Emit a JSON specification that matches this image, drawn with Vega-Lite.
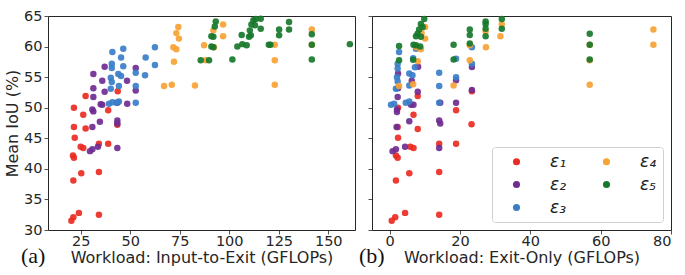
{
  "$schema": "https://vega.github.io/schema/vega-lite/v6.json",
  "padding": {"left": 4, "top": 7, "right": 0, "bottom": 0},
  "background": "white",
  "config": {
    "font": "DejaVu Sans",
    "view": {"stroke": "#262626", "strokeWidth": 1},
    "axis": {"grid": false, "domain": false, "tickColor": "#262626", "tickSize": 4, "tickWidth": 0.8,
             "labelFontSize": 14.5, "labelColor": "#262626", "labelPadding": 2,
             "titleFontSize": 16, "titleFontWeight": "normal", "titleColor": "#262626"}
  },
  "datasets": {
    "a": [
      {"exit":"ε₁","gflops":43.7,"iou":52.7},{"exit":"ε₁","gflops":27.5,"iou":51.9},{"exit":"ε₁","gflops":21.6,"iou":50.0},{"exit":"ε₁","gflops":38.9,"iou":49.6},
      {"exit":"ε₁","gflops":26.3,"iou":48.85},{"exit":"ε₁","gflops":21.6,"iou":46.85},{"exit":"ε₁","gflops":27.5,"iou":46.6},{"exit":"ε₁","gflops":43.5,"iou":47.2},
      {"exit":"ε₁","gflops":22.0,"iou":45.1},{"exit":"ε₁","gflops":25.0,"iou":43.6},{"exit":"ε₁","gflops":26.3,"iou":43.4},{"exit":"ε₁","gflops":34.2,"iou":44.1},
      {"exit":"ε₁","gflops":38.9,"iou":44.1},{"exit":"ε₁","gflops":21.1,"iou":42.2},{"exit":"ε₁","gflops":21.6,"iou":41.8},{"exit":"ε₁","gflops":25.3,"iou":39.3},
      {"exit":"ε₁","gflops":34.2,"iou":39.5},{"exit":"ε₁","gflops":21.3,"iou":38.1},{"exit":"ε₁","gflops":24.1,"iou":32.8},{"exit":"ε₁","gflops":21.3,"iou":32.1},
      {"exit":"ε₁","gflops":20.3,"iou":31.5},{"exit":"ε₁","gflops":34.2,"iou":32.5},
      {"exit":"ε₂","gflops":37.1,"iou":56.7},{"exit":"ε₂","gflops":31.4,"iou":55.5},{"exit":"ε₂","gflops":35.9,"iou":54.4},{"exit":"ε₂","gflops":48.4,"iou":54.4},
      {"exit":"ε₂","gflops":52.8,"iou":56.5},{"exit":"ε₂","gflops":52.8,"iou":52.8},{"exit":"ε₂","gflops":31.4,"iou":53.2},{"exit":"ε₂","gflops":37.1,"iou":52.6},
      {"exit":"ε₂","gflops":31.4,"iou":51.75},{"exit":"ε₂","gflops":35.1,"iou":50.55},{"exit":"ε₂","gflops":35.9,"iou":50.5},{"exit":"ε₂","gflops":43.5,"iou":50.8},
      {"exit":"ε₂","gflops":48.5,"iou":50.65},{"exit":"ε₂","gflops":30.9,"iou":49.7},{"exit":"ε₂","gflops":31.4,"iou":49.4},{"exit":"ε₂","gflops":34.7,"iou":47.7},
      {"exit":"ε₂","gflops":43.5,"iou":47.9},{"exit":"ε₂","gflops":43.5,"iou":47.4},{"exit":"ε₂","gflops":30.9,"iou":46.85},{"exit":"ε₂","gflops":43.5,"iou":43.4},
      {"exit":"ε₂","gflops":29.7,"iou":42.9},{"exit":"ε₂","gflops":30.9,"iou":43.2},{"exit":"ε₂","gflops":33.7,"iou":43.6},
      {"exit":"ε₃","gflops":41.0,"iou":59.1},{"exit":"ε₃","gflops":46.5,"iou":59.65},{"exit":"ε₃","gflops":45.4,"iou":58.2},{"exit":"ε₃","gflops":40.7,"iou":57.2},
      {"exit":"ε₃","gflops":40.7,"iou":56.5},{"exit":"ε₃","gflops":46.5,"iou":56.8},{"exit":"ε₃","gflops":44.0,"iou":55.5},{"exit":"ε₃","gflops":45.4,"iou":55.2},
      {"exit":"ε₃","gflops":40.2,"iou":54.9},{"exit":"ε₃","gflops":40.7,"iou":54.2},{"exit":"ε₃","gflops":52.8,"iou":55.7},{"exit":"ε₃","gflops":52.8,"iou":53.55},
      {"exit":"ε₃","gflops":44.3,"iou":53.55},{"exit":"ε₃","gflops":40.2,"iou":53.1},{"exit":"ε₃","gflops":57.5,"iou":55.3},{"exit":"ε₃","gflops":57.8,"iou":58.2},
      {"exit":"ε₃","gflops":62.5,"iou":59.9},{"exit":"ε₃","gflops":62.5,"iou":57.0},{"exit":"ε₃","gflops":39.3,"iou":50.65},{"exit":"ε₃","gflops":41.0,"iou":50.9},
      {"exit":"ε₃","gflops":43.0,"iou":50.8},{"exit":"ε₃","gflops":44.3,"iou":51.0},{"exit":"ε₃","gflops":52.8,"iou":50.8},
      {"exit":"ε₄","gflops":74.3,"iou":63.2},{"exit":"ε₄","gflops":73.3,"iou":62.2},{"exit":"ε₄","gflops":74.6,"iou":61.3},{"exit":"ε₄","gflops":71.8,"iou":59.9},
      {"exit":"ε₄","gflops":73.3,"iou":59.55},{"exit":"ε₄","gflops":72.1,"iou":57.5},{"exit":"ε₄","gflops":67.1,"iou":53.55},{"exit":"ε₄","gflops":71.0,"iou":53.75},
      {"exit":"ε₄","gflops":82.7,"iou":53.65},{"exit":"ε₄","gflops":87.3,"iou":60.2},{"exit":"ε₄","gflops":92.3,"iou":59.9},{"exit":"ε₄","gflops":92.0,"iou":62.65},
      {"exit":"ε₄","gflops":96.9,"iou":63.6},{"exit":"ε₄","gflops":96.9,"iou":61.7},{"exit":"ε₄","gflops":88.1,"iou":57.75},{"exit":"ε₄","gflops":123.0,"iou":60.3},
      {"exit":"ε₄","gflops":123.0,"iou":57.75},{"exit":"ε₄","gflops":123.0,"iou":53.75},{"exit":"ε₄","gflops":141.7,"iou":62.8},{"exit":"ε₄","gflops":141.7,"iou":60.3},
      {"exit":"ε₅","gflops":93.2,"iou":64.1},{"exit":"ε₅","gflops":92.7,"iou":63.3},{"exit":"ε₅","gflops":91.0,"iou":61.7},{"exit":"ε₅","gflops":92.0,"iou":61.6},
      {"exit":"ε₅","gflops":91.0,"iou":60.0},{"exit":"ε₅","gflops":92.0,"iou":59.9},{"exit":"ε₅","gflops":85.6,"iou":57.75},{"exit":"ε₅","gflops":89.8,"iou":57.75},
      {"exit":"ε₅","gflops":101.6,"iou":57.9},{"exit":"ε₅","gflops":106.3,"iou":61.9},{"exit":"ε₅","gflops":104.1,"iou":60.0},{"exit":"ε₅","gflops":106.6,"iou":60.4},
      {"exit":"ε₅","gflops":108.8,"iou":60.2},{"exit":"ε₅","gflops":110.4,"iou":62.65},{"exit":"ε₅","gflops":111.2,"iou":63.6},{"exit":"ε₅","gflops":112.2,"iou":64.3},
      {"exit":"ε₅","gflops":110.9,"iou":61.85},{"exit":"ε₅","gflops":110.0,"iou":61.6},{"exit":"ε₅","gflops":113.4,"iou":64.5},{"exit":"ε₅","gflops":115.9,"iou":64.55},
      {"exit":"ε₅","gflops":113.0,"iou":63.5},{"exit":"ε₅","gflops":115.9,"iou":62.9},{"exit":"ε₅","gflops":125.2,"iou":62.8},{"exit":"ε₅","gflops":125.2,"iou":61.85},
      {"exit":"ε₅","gflops":130.2,"iou":64.0},{"exit":"ε₅","gflops":130.2,"iou":62.8},{"exit":"ε₅","gflops":120.0,"iou":60.3},{"exit":"ε₅","gflops":120.8,"iou":60.3},
      {"exit":"ε₅","gflops":141.7,"iou":62.0},{"exit":"ε₅","gflops":141.7,"iou":60.3},{"exit":"ε₅","gflops":141.7,"iou":57.9},{"exit":"ε₅","gflops":160.9,"iou":60.4}
    ],
    "b": [
      {"exit":"ε₁","gflops":23.4,"iou":52.7},{"exit":"ε₁","gflops":8.0,"iou":51.9},{"exit":"ε₁","gflops":2.4,"iou":50.0},{"exit":"ε₁","gflops":18.9,"iou":49.6},
      {"exit":"ε₁","gflops":6.8,"iou":48.85},{"exit":"ε₁","gflops":2.3,"iou":46.85},{"exit":"ε₁","gflops":8.0,"iou":46.5},{"exit":"ε₁","gflops":23.3,"iou":47.3},
      {"exit":"ε₁","gflops":2.4,"iou":45.1},{"exit":"ε₁","gflops":5.9,"iou":43.6},{"exit":"ε₁","gflops":6.8,"iou":43.4},{"exit":"ε₁","gflops":14.1,"iou":44.1},
      {"exit":"ε₁","gflops":18.9,"iou":44.1},{"exit":"ε₁","gflops":1.8,"iou":42.2},{"exit":"ε₁","gflops":2.3,"iou":41.8},{"exit":"ε₁","gflops":5.6,"iou":39.3},
      {"exit":"ε₁","gflops":14.1,"iou":39.5},{"exit":"ε₁","gflops":1.8,"iou":38.1},{"exit":"ε₁","gflops":4.4,"iou":32.8},{"exit":"ε₁","gflops":1.6,"iou":32.1},
      {"exit":"ε₁","gflops":0.6,"iou":31.5},{"exit":"ε₁","gflops":14.1,"iou":32.5},
      {"exit":"ε₂","gflops":8.1,"iou":56.7},{"exit":"ε₂","gflops":2.4,"iou":55.6},{"exit":"ε₂","gflops":6.3,"iou":54.4},{"exit":"ε₂","gflops":18.9,"iou":54.5},
      {"exit":"ε₂","gflops":23.4,"iou":56.65},{"exit":"ε₂","gflops":23.4,"iou":52.9},{"exit":"ε₂","gflops":2.4,"iou":53.2},{"exit":"ε₂","gflops":8.0,"iou":52.6},
      {"exit":"ε₂","gflops":2.3,"iou":51.75},{"exit":"ε₂","gflops":6.1,"iou":50.5},{"exit":"ε₂","gflops":6.8,"iou":50.5},{"exit":"ε₂","gflops":14.4,"iou":50.8},
      {"exit":"ε₂","gflops":18.9,"iou":50.8},{"exit":"ε₂","gflops":2.1,"iou":49.7},{"exit":"ε₂","gflops":2.1,"iou":49.3},{"exit":"ε₂","gflops":5.6,"iou":47.8},
      {"exit":"ε₂","gflops":14.1,"iou":47.9},{"exit":"ε₂","gflops":14.4,"iou":47.4},{"exit":"ε₂","gflops":2.0,"iou":46.85},{"exit":"ε₂","gflops":14.1,"iou":43.4},
      {"exit":"ε₂","gflops":0.85,"iou":42.9},{"exit":"ε₂","gflops":1.8,"iou":43.2},{"exit":"ε₂","gflops":4.4,"iou":43.6},
      {"exit":"ε₃","gflops":2.7,"iou":59.1},{"exit":"ε₃","gflops":7.5,"iou":59.65},{"exit":"ε₃","gflops":6.7,"iou":58.1},{"exit":"ε₃","gflops":2.3,"iou":57.2},
      {"exit":"ε₃","gflops":2.3,"iou":56.4},{"exit":"ε₃","gflops":7.2,"iou":56.6},{"exit":"ε₃","gflops":5.6,"iou":55.6},{"exit":"ε₃","gflops":6.5,"iou":55.3},
      {"exit":"ε₃","gflops":2.1,"iou":55.0},{"exit":"ε₃","gflops":2.3,"iou":54.3},{"exit":"ε₃","gflops":14.1,"iou":55.7},{"exit":"ε₃","gflops":14.1,"iou":53.55},
      {"exit":"ε₃","gflops":5.6,"iou":53.65},{"exit":"ε₃","gflops":1.8,"iou":53.1},{"exit":"ε₃","gflops":18.9,"iou":55.0},{"exit":"ε₃","gflops":18.9,"iou":58.0},
      {"exit":"ε₃","gflops":23.4,"iou":59.9},{"exit":"ε₃","gflops":23.4,"iou":57.2},{"exit":"ε₃","gflops":0.4,"iou":50.5},{"exit":"ε₃","gflops":1.3,"iou":50.65},
      {"exit":"ε₃","gflops":4.6,"iou":50.8},{"exit":"ε₃","gflops":5.6,"iou":51.0},{"exit":"ε₃","gflops":14.1,"iou":50.8},
      {"exit":"ε₄","gflops":10.1,"iou":63.2},{"exit":"ε₄","gflops":9.1,"iou":62.2},{"exit":"ε₄","gflops":10.1,"iou":61.3},{"exit":"ε₄","gflops":7.6,"iou":59.9},
      {"exit":"ε₄","gflops":8.9,"iou":59.55},{"exit":"ε₄","gflops":8.0,"iou":57.6},{"exit":"ε₄","gflops":2.7,"iou":53.55},{"exit":"ε₄","gflops":6.7,"iou":53.85},
      {"exit":"ε₄","gflops":18.2,"iou":53.65},{"exit":"ε₄","gflops":22.8,"iou":60.2},{"exit":"ε₄","gflops":27.4,"iou":59.9},{"exit":"ε₄","gflops":27.3,"iou":62.5},
      {"exit":"ε₄","gflops":31.9,"iou":63.65},{"exit":"ε₄","gflops":31.5,"iou":61.7},{"exit":"ε₄","gflops":22.8,"iou":57.75},{"exit":"ε₄","gflops":56.9,"iou":60.3},
      {"exit":"ε₄","gflops":56.9,"iou":57.75},{"exit":"ε₄","gflops":56.9,"iou":53.75},{"exit":"ε₄","gflops":75.0,"iou":62.8},{"exit":"ε₄","gflops":75.0,"iou":60.3},
      {"exit":"ε₅","gflops":9.85,"iou":64.5},{"exit":"ε₅","gflops":8.9,"iou":63.7},{"exit":"ε₅","gflops":9.4,"iou":63.2},{"exit":"ε₅","gflops":8.4,"iou":62.8},
      {"exit":"ε₅","gflops":7.95,"iou":62.1},{"exit":"ε₅","gflops":7.5,"iou":61.7},{"exit":"ε₅","gflops":8.9,"iou":61.6},{"exit":"ε₅","gflops":7.5,"iou":60.2},
      {"exit":"ε₅","gflops":6.8,"iou":60.3},{"exit":"ε₅","gflops":8.7,"iou":60.0},{"exit":"ε₅","gflops":2.7,"iou":60.1},{"exit":"ε₅","gflops":2.7,"iou":57.75},
      {"exit":"ε₅","gflops":6.7,"iou":57.85},{"exit":"ε₅","gflops":18.2,"iou":60.3},{"exit":"ε₅","gflops":18.2,"iou":57.9},{"exit":"ε₅","gflops":22.8,"iou":62.8},
      {"exit":"ε₅","gflops":22.8,"iou":61.9},{"exit":"ε₅","gflops":22.8,"iou":60.5},{"exit":"ε₅","gflops":27.3,"iou":64.1},{"exit":"ε₅","gflops":27.3,"iou":63.7},
      {"exit":"ε₅","gflops":27.3,"iou":62.9},{"exit":"ε₅","gflops":27.3,"iou":61.7},{"exit":"ε₅","gflops":31.9,"iou":64.5},{"exit":"ε₅","gflops":31.9,"iou":62.9},
      {"exit":"ε₅","gflops":56.9,"iou":62.1},{"exit":"ε₅","gflops":56.9,"iou":60.3},{"exit":"ε₅","gflops":56.9,"iou":57.9}
    ]
  },
  "bounds": "flush",
  "spacing": 17,
  "resolve": {"scale": {"color": "independent"}},
  "hconcat": [
    {
      "width": 307,
      "height": 214,
      "data": {"name": "a"},
      "title": {"text": "(a)", "orient": "bottom", "anchor": "start", "frame": "group", "font": "Liberation Serif", "fontSize": 22, "fontWeight": "normal", "color": "#111111", "offset": 0, "dx": -27, "dy": -3, "baseline": "alphabetic"},
      "mark": {"type": "circle", "size": 42, "opacity": 0.92},
      "encoding": {
        "x": {"field": "gflops", "type": "quantitative", "scale": {"domain": [8.5, 163.5], "nice": false, "zero": false},
              "axis": {"values": [25, 50, 75, 100, 125, 150], "title": "Workload: Input-to-Exit (GFLOPs)", "titlePadding": 2, "labelPadding": 0}},
        "y": {"field": "iou", "type": "quantitative", "scale": {"domain": [30, 65], "nice": false, "zero": false},
              "axis": {"values": [30, 35, 40, 45, 50, 55, 60, 65], "title": "Mean IoU (%)", "titlePadding": 3}},
        "color": {"field": "exit", "type": "nominal",
                  "scale": {"domain": ["ε₁", "ε₂", "ε₃", "ε₄", "ε₅"], "range": ["#ea2b23", "#6f2c91", "#3a7ec8", "#f7a233", "#17782b"]},
                  "legend": null}
      }
    },
    {
      "width": 299,
      "height": 214,
      "data": {"name": "b"},
      "title": {"text": "(b)", "orient": "bottom", "anchor": "start", "frame": "group", "font": "Liberation Serif", "fontSize": 22, "fontWeight": "normal", "color": "#111111", "offset": 0, "dx": -13, "dy": -3, "baseline": "alphabetic"},
      "mark": {"type": "circle", "size": 42, "opacity": 0.92},
      "encoding": {
        "x": {"field": "gflops", "type": "quantitative", "scale": {"domain": [-5, 80], "nice": false, "zero": false},
              "axis": {"values": [0, 20, 40, 60, 80], "title": "Workload: Exit-Only (GFLOPs)", "titlePadding": 2, "labelPadding": 0}},
        "y": {"field": "iou", "type": "quantitative", "scale": {"domain": [30, 65], "nice": false, "zero": false},
              "axis": {"values": [30, 35, 40, 45, 50, 55, 60, 65], "labels": false, "title": null}},
        "color": {"field": "exit", "type": "nominal",
                  "scale": {"domain": ["ε₁", "ε₂", "ε₃", "ε₄", "ε₅"], "range": ["#ea2b23", "#6f2c91", "#3a7ec8", "#f7a233", "#17782b"]},
                  "legend": {"title": null, "orient": "bottom-right", "offset": 8, "columns": 2, "symbolType": "circle", "symbolSize": 50,
                             "symbolOpacity": 1, "labelFontSize": 17, "labelFont": "DejaVu Sans", "labelFontStyle": "italic", "labelColor": "#222222",
                             "labelOffset": 25, "columnPadding": 21, "rowPadding": 5, "padding": 6, "symbolOffset": 10,
                             "strokeColor": "#d0d0d0", "cornerRadius": 3, "fillColor": "white"}}
      }
    }
  ]
}
